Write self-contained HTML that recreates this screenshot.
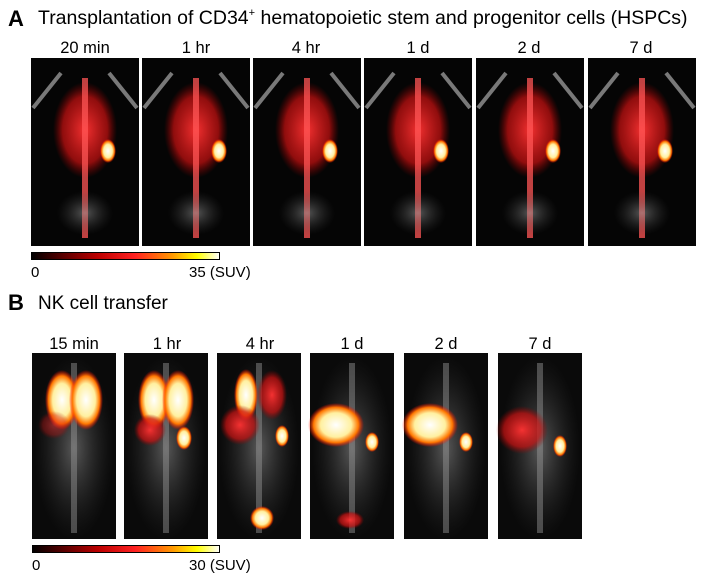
<!DOCTYPE html>
<html><head><style>
body{margin:0;background:#fff;width:701px;height:574px;overflow:hidden;font-family:"Liberation Sans",Arial,sans-serif;}
</style></head><body>
<svg width="701" height="574" xmlns="http://www.w3.org/2000/svg" font-family="Liberation Sans, Arial, sans-serif">
<defs>
<linearGradient id="hot" x1="0" x2="1"><stop offset="0" stop-color="#000"/><stop offset="0.35" stop-color="#b00"/><stop offset="0.55" stop-color="#f22"/><stop offset="0.75" stop-color="#f90"/><stop offset="0.88" stop-color="#ff0"/><stop offset="1" stop-color="#fff"/></linearGradient>
<radialGradient id="red"><stop offset="0" stop-color="#f33" stop-opacity="0.95"/><stop offset="0.7" stop-color="#c11" stop-opacity="0.7"/><stop offset="1" stop-color="#900" stop-opacity="0"/></radialGradient>
<radialGradient id="hotspot"><stop offset="0" stop-color="#fff"/><stop offset="0.55" stop-color="#fff0a0"/><stop offset="0.8" stop-color="#f70"/><stop offset="1" stop-color="#f00" stop-opacity="0"/></radialGradient>
<radialGradient id="gray"><stop offset="0" stop-color="#999" stop-opacity="0.55"/><stop offset="1" stop-color="#444" stop-opacity="0"/></radialGradient>
<g id="mA">
<rect x="0" y="0" width="108" height="188" fill="#050505"/>
<path d="M2 50 L30 15 M106 50 L78 15" stroke="#aaa" stroke-width="4" opacity="0.7"/>
<ellipse cx="54" cy="72" rx="32" ry="48" fill="url(#red)"/>
<rect x="51" y="20" width="6" height="160" fill="#f55" opacity="0.75" stroke-dasharray="4 3"/>
<ellipse cx="54" cy="155" rx="28" ry="22" fill="url(#gray)"/>
<ellipse cx="77" cy="93" rx="8" ry="12" fill="url(#hotspot)"/>
</g>
<g id="mB">
<rect x="0" y="0" width="84" height="186" fill="#0a0a0a"/>
<ellipse cx="42" cy="95" rx="40" ry="92" fill="url(#gray)"/>
<rect x="39" y="10" width="6" height="170" fill="#999" opacity="0.45"/>
</g>
</defs>
<text x="8" y="26" font-size="22" font-weight="bold">A</text>
<text x="38" y="24" font-size="19.5">Transplantation of CD34<tspan font-size="11" dy="-8">+</tspan><tspan dy="8"> hematopoietic stem and progenitor cells (HSPCs)</tspan></text>
<g font-size="16.5" text-anchor="middle">
<text x="85" y="53">20 min</text><text x="196" y="53">1 hr</text><text x="306" y="53">4 hr</text>
<text x="418" y="53">1 d</text><text x="529" y="53">2 d</text><text x="641" y="53">7 d</text>
</g>
<use href="#mA" x="31" y="58"/><use href="#mA" x="142" y="58"/><use href="#mA" x="253" y="58"/>
<use href="#mA" x="364" y="58"/><use href="#mA" x="476" y="58"/><use href="#mA" x="588" y="58"/>
<rect x="31.5" y="252.5" width="188" height="7" fill="url(#hot)" stroke="#000"/>
<text x="31" y="277" font-size="15">0</text><text x="189" y="277" font-size="15">35 (SUV)</text>

<text x="8" y="310" font-size="22" font-weight="bold">B</text>
<text x="38" y="309" font-size="19">NK cell transfer</text>
<g font-size="16.5" text-anchor="middle">
<text x="74" y="349">15 min</text><text x="167" y="349">1 hr</text><text x="260" y="349">4 hr</text>
<text x="352" y="349">1 d</text><text x="446" y="349">2 d</text><text x="540" y="349">7 d</text>
</g>
<use href="#mB" x="32" y="353"/><use href="#mB" x="124" y="353"/><use href="#mB" x="217" y="353"/>
<use href="#mB" x="310" y="353"/><use href="#mB" x="404" y="353"/><use href="#mB" x="498" y="353"/>
<ellipse cx="62" cy="400" rx="17" ry="30" fill="url(#hotspot)"/><ellipse cx="86" cy="400" rx="17" ry="30" fill="url(#hotspot)"/>
<ellipse cx="54" cy="425" rx="16" ry="14" fill="url(#red)" opacity="0.5"/>
<ellipse cx="154" cy="400" rx="16" ry="30" fill="url(#hotspot)"/><ellipse cx="178" cy="400" rx="16" ry="30" fill="url(#hotspot)"/>
<ellipse cx="150" cy="430" rx="16" ry="16" fill="url(#red)"/><ellipse cx="184" cy="438" rx="8" ry="12" fill="url(#hotspot)"/>
<ellipse cx="246" cy="395" rx="12" ry="26" fill="url(#hotspot)"/><ellipse cx="272" cy="395" rx="15" ry="25" fill="url(#red)"/>
<ellipse cx="240" cy="425" rx="20" ry="20" fill="url(#red)"/><ellipse cx="282" cy="436" rx="7" ry="11" fill="url(#hotspot)"/>
<ellipse cx="262" cy="518" rx="12" ry="12" fill="url(#hotspot)"/>
<ellipse cx="336" cy="425" rx="28" ry="22" fill="url(#hotspot)"/><ellipse cx="372" cy="442" rx="7" ry="10" fill="url(#hotspot)"/>
<ellipse cx="350" cy="520" rx="14" ry="9" fill="url(#red)"/>
<ellipse cx="430" cy="425" rx="28" ry="22" fill="url(#hotspot)"/><ellipse cx="466" cy="442" rx="7" ry="10" fill="url(#hotspot)"/>
<ellipse cx="522" cy="430" rx="26" ry="24" fill="url(#red)"/><ellipse cx="560" cy="446" rx="7" ry="11" fill="url(#hotspot)"/>
<rect x="32.5" y="545.5" width="187" height="7" fill="url(#hot)" stroke="#000"/>
<text x="32" y="570" font-size="15">0</text><text x="189" y="570" font-size="15">30 (SUV)</text>
</svg>
</body></html>
